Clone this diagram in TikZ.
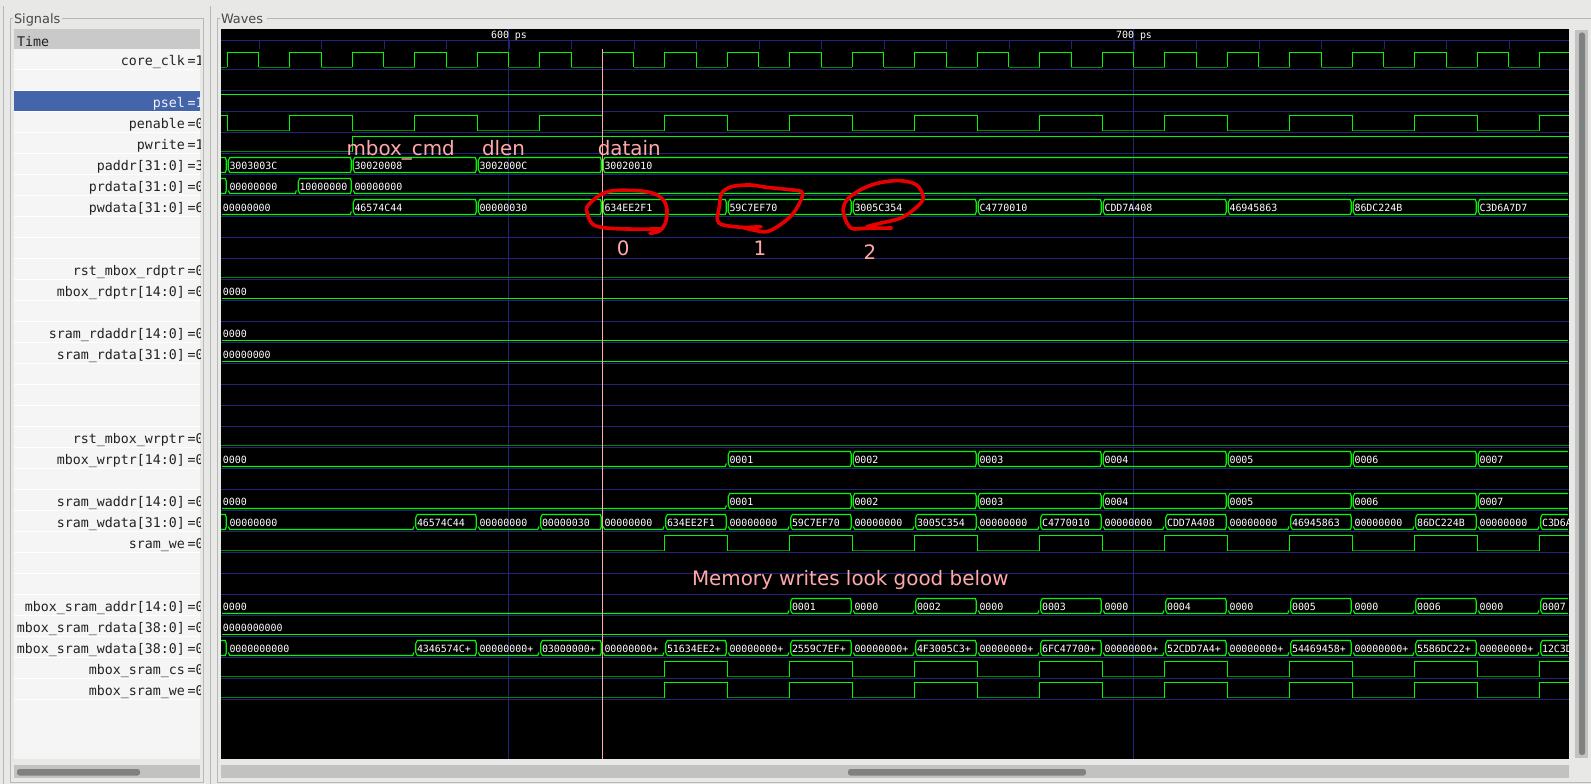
\documentclass[tikz,border=0pt]{standalone}
\usepackage{fontspec}
\setmainfont{DejaVu Sans}
\newfontfamily\monof{DejaVu Sans Mono}
\definecolor{chrome}{HTML}{E8E8E6}
\definecolor{framec}{HTML}{B8B9B6}
\definecolor{trough}{HTML}{C2C3C1}
\definecolor{thumbc}{HTML}{808281}
\definecolor{rowbg}{HTML}{F5F5F5}
\definecolor{timebg}{HTML}{C9C9C9}
\definecolor{selbg}{HTML}{4565AA}
\definecolor{gridb}{HTML}{23237A}
\definecolor{hig}{HTML}{00F800}
\definecolor{log}{HTML}{008A00}
\definecolor{anno}{HTML}{FFA8A8}
\definecolor{inkred}{HTML}{E80000}
\definecolor{sigtxt}{HTML}{222222}
\tikzset{
  framel/.style={draw=framec,line width=1pt},
  sigt/.style={inner sep=0pt,outer sep=0pt,font=\monof\fontsize{13.3}{13.3}\selectfont,text=sigtxt},
  valt/.style={inner sep=0pt,outer sep=0pt,anchor=base west,font=\monof\fontsize{9.95}{10}\selectfont,text=white},
  annot/.style={inner sep=0pt,outer sep=0pt,anchor=base west,font=\fontsize{19.9}{20}\selectfont,text=anno},
  paneltitle/.style={inner sep=0pt,outer sep=0pt,anchor=base west,font=\fontsize{12.9}{13}\selectfont,text=black!72},
  gridl/.style={draw=gridb,line width=1pt},
  vec/.style={draw=hig,line width=1.2pt,line join=miter},
  hiw/.style={draw=hig,line width=1.2pt},
  low/.style={draw=log,line width=1.2pt},
  ink/.style={draw=inkred,line width=3.6pt,line cap=round,line join=round},
}
% row, from, to (in clock-edge units), text: box with a value
\newcommand{\hexbox}[4]{%
  \pgfmathsetmacro\ya{52.5+21*#1}\pgfmathsetmacro\yb{67.5+21*#1}%
  \pgfmathsetmacro\xa{227.3+62.5*#2}\pgfmathsetmacro\xb{227.3+62.5*#3}%
  \draw[vec] (\xa+2.5,\ya) -- (\xb-2,\ya) -- (\xb-1,\ya+3) -- (\xb-1,\yb-3) -- (\xb-2,\yb) -- (\xa+2.5,\yb) -- (\xa+1,\yb-3) -- (\xa+1,\ya+3) -- cycle;
  \node[valt] (v#1-#2) at (\xa+2.2,64+21*#1) {#4};}
% row, from, to, text: a zero value, bottom line only
\newcommand{\zerobox}[4]{%
  \pgfmathsetmacro\yb{67.5+21*#1}%
  \pgfmathsetmacro\xa{227.3+62.5*#2}\pgfmathsetmacro\xb{227.3+62.5*#3}%
  \draw[vec] (\xa+1,\yb-3) -- (\xa+2.5,\yb) -- (\xb-2,\yb) -- (\xb-1,\yb-3);
  \node[valt] (v#1-#2) at (\xa+2.2,64+21*#1) {#4};}
% row, from, text: box open to the right end
\newcommand{\openbox}[3]{%
  \pgfmathsetmacro\ya{52.5+21*#1}\pgfmathsetmacro\yb{67.5+21*#1}%
  \pgfmathsetmacro\xa{227.3+62.5*#2}%
  \draw[vec] (1568,\ya) -- (\xa+2.5,\ya) -- (\xa+1,\ya+3) -- (\xa+1,\yb-3) -- (\xa+2.5,\yb) -- (1568,\yb);
  \node[valt] (v#1-#2) at (\xa+2.2,64+21*#1) {#3};}
% row, from, text: zero value open to the right end
\newcommand{\openzero}[3]{%
  \pgfmathsetmacro\yb{67.5+21*#1}%
  \pgfmathsetmacro\xa{227.3+62.5*#2}%
  \draw[vec] (\xa+1,\yb-3) -- (\xa+2.5,\yb) -- (1568,\yb);
  \node[valt] (v#1-#2) at (\xa+2.2,64+21*#1) {#3};}
% row, text: value constant over the whole pane
\newcommand{\flatzero}[2]{%
  \pgfmathsetmacro\yb{67.5+21*#1}%
  \draw[vec] (222,\yb) -- (1568,\yb);
  \node[valt] (v#1-s) at (222.8,64+21*#1) {#2};}
% row: short box before the first edge
\newcommand{\startstub}[1]{%
  \pgfmathsetmacro\ya{52.5+21*#1}\pgfmathsetmacro\yb{67.5+21*#1}%
  \draw[vec] (221,\ya) -- (225.3,\ya) -- (226.3,\ya+3) -- (226.3,\yb-3) -- (225.3,\yb) -- (221,\yb);}
% row, first rise, high length, period, count
\newcommand{\pulses}[5]{%
  \pgfmathsetmacro\ya{52.5+21*#1}\pgfmathsetmacro\yb{67.5+21*#1}%
  \draw[low] (100,\yb) -- (#2,\yb);
  \foreach \i in {1,...,#5}{%
    \pgfmathsetmacro\ra{#2+#4*(\i-1)}\pgfmathsetmacro\fa{\ra+#3}\pgfmathsetmacro\na{\ra+#4}%
    \draw[low] (\fa,\yb) -- (\na,\yb);
    \draw[hiw,line join=miter] (\ra,\yb) -- (\ra,\ya) -- (\fa,\ya) -- (\fa,\yb);
  }}
\begin{document}
\begin{tikzpicture}[x=1pt,y=-1pt]
\useasboundingbox (0,0) rectangle (1591,784);
\fill[chrome] (0,0) rectangle (1591,784);
% paned separators
\draw[framec,line width=1pt] (3.5,6) -- (3.5,784);
\draw[framec,line width=1pt] (210.5,6) -- (210.5,784);
% frames
\draw[framel] (10.5,18.5) rectangle (203.5,782.5);
\draw[framel] (1600,18.5) -- (217.5,18.5) -- (217.5,782.5) -- (1600,782.5);
\fill[chrome] (13,10) rectangle (62,26);
\fill[chrome] (220,10) rectangle (267,26);
\node[paneltitle] (sigtitle) at (14,23.7) {Signals};
\node[paneltitle] (wavtitle) at (221,23.7) {Waves};
% signal list
\fill[rowbg] (14,29) rectangle (200,759);
\fill[timebg] (14,29) rectangle (200,49);
\foreach \k in {0,...,30}{\fill[white] (14,{69+21*\k}) rectangle (200,{70+21*\k});}
\fill[selbg] (14,91) rectangle (200,111);
\begin{scope}
\clip (14,29) rectangle (200,759);
\node[sigt,anchor=base west] (timelab) at (17,46.8) {Time};
\foreach \k/\n/\v in {0/core\_clk/1,3/penable/0,4/pwrite/1,5/paddr[31:0]/3,6/prdata[31:0]/0,7/pwdata[31:0]/6,10/rst\_mbox\_rdptr/0,11/mbox\_rdptr[14:0]/0,13/sram\_rdaddr[14:0]/0,14/sram\_rdata[31:0]/0,18/rst\_mbox\_wrptr/0,19/mbox\_wrptr[14:0]/0,21/sram\_waddr[14:0]/0,22/sram\_wdata[31:0]/0,23/sram\_we/0,26/mbox\_sram\_addr[14:0]/0,27/mbox\_sram\_rdata[38:0]/0,28/mbox\_sram\_wdata[38:0]/0,29/mbox\_sram\_cs/0,30/mbox\_sram\_we/0}{
  \node[sigt,anchor=base east] (sig\k) at (185,{65.6+21*\k}) {\n};
  \node[sigt,anchor=base west] (val\k) at (187.6,{65.6+21*\k}) {=\v};
}
\node[sigt,anchor=base east,text=white!92!selbg] (sig2) at (185,107.6) {psel};
\node[sigt,anchor=base west,text=white!92!selbg] (val2) at (187.6,107.6) {=1};
\end{scope}
% wave pane
\fill[black] (221,29) rectangle (1569,759);
\begin{scope}
\clip (221,29) rectangle (1569,759);
\draw[gridl] (221,40.5) -- (1569,40.5);
\foreach \k in {0,...,30}{\draw[gridl] (221,{69.5+21*\k}) -- (1569,{69.5+21*\k});}
\foreach \n in {0,...,20}{\draw[gridl] ({259+62.5*\n},40.5) -- ({259+62.5*\n},49);}
\draw[gridl] (508.5,29) -- (508.5,759);
\draw[gridl] (1133.5,29) -- (1133.5,759);
\node[valt,anchor=base] (t600) at (509,38.5) {600 ps};
\node[valt,anchor=base] (t700) at (1134,38.5) {700 ps};
% single-bit signals
\pulses{0}{227.3}{31.4}{62.5}{22}
\pulses{2}{100}{3000}{4000}{1}
\pulses{3}{164.8}{62.5}{125}{12}
\pulses{4}{352.3}{3000}{4000}{1}
\draw[low] (221,{67.5+210}) -- (1569,{67.5+210});
\draw[low] (221,{67.5+378}) -- (1569,{67.5+378});
\pulses{23}{664.8}{62.5}{125}{8}
\pulses{29}{664.8}{62.5}{125}{8}
\pulses{30}{664.8}{62.5}{125}{8}
% paddr
\startstub{5}
\hexbox{5}{0}{2}{3003003C}
\hexbox{5}{2}{4}{30020008}
\hexbox{5}{4}{6}{3002000C}
\openbox{5}{6}{30020010}
% prdata
\startstub{6}
\zerobox{6}{0}{1.12}{00000000}
\hexbox{6}{1.12}{2}{10000000}
\openzero{6}{2}{00000000}
% pwdata
\draw[vec] (222,{67.5+147}) -- (350.3,{67.5+147}) -- (351.3,{64.5+147});
\node[valt] (v7-s) at (222.8,{64+147}) {00000000};
\hexbox{7}{2}{4}{46574C44}
\hexbox{7}{4}{6}{00000030}
\hexbox{7}{6}{8}{634EE2F1}
\hexbox{7}{8}{10}{59C7EF70}
\hexbox{7}{10}{12}{3005C354}
\hexbox{7}{12}{14}{C4770010}
\hexbox{7}{14}{16}{CDD7A408}
\hexbox{7}{16}{18}{46945863}
\hexbox{7}{18}{20}{86DC224B}
\openbox{7}{20}{C3D6A7D7}
% read side
\flatzero{11}{0000}
\flatzero{13}{0000}
\flatzero{14}{00000000}
% write pointers
\foreach \k in {19,21}{
  \draw[vec] (222,{67.5+21*\k}) -- (725.3,{67.5+21*\k}) -- (726.3,{64.5+21*\k});
  \node[valt] (v\k-s) at (222.8,{64+21*\k}) {0000};
  \hexbox{\k}{8}{10}{0001}
  \hexbox{\k}{10}{12}{0002}
  \hexbox{\k}{12}{14}{0003}
  \hexbox{\k}{14}{16}{0004}
  \hexbox{\k}{16}{18}{0005}
  \hexbox{\k}{18}{20}{0006}
  \openbox{\k}{20}{0007}
}
% sram_wdata
\startstub{22}
\zerobox{22}{0}{3}{00000000}
\hexbox{22}{3}{4}{46574C44}
\zerobox{22}{4}{5}{00000000}
\hexbox{22}{5}{6}{00000030}
\zerobox{22}{6}{7}{00000000}
\hexbox{22}{7}{8}{634EE2F1}
\zerobox{22}{8}{9}{00000000}
\hexbox{22}{9}{10}{59C7EF70}
\zerobox{22}{10}{11}{00000000}
\hexbox{22}{11}{12}{3005C354}
\zerobox{22}{12}{13}{00000000}
\hexbox{22}{13}{14}{C4770010}
\zerobox{22}{14}{15}{00000000}
\hexbox{22}{15}{16}{CDD7A408}
\zerobox{22}{16}{17}{00000000}
\hexbox{22}{17}{18}{46945863}
\zerobox{22}{18}{19}{00000000}
\hexbox{22}{19}{20}{86DC224B}
\zerobox{22}{20}{21}{00000000}
\openbox{22}{21}{C3D6A}
% mbox_sram_addr
\draw[vec] (222,{67.5+546}) -- (787.8,{67.5+546}) -- (788.8,{64.5+546});
\node[valt] (v26-s) at (222.8,{64+546}) {0000};
\hexbox{26}{9}{10}{0001}
\zerobox{26}{10}{11}{0000}
\hexbox{26}{11}{12}{0002}
\zerobox{26}{12}{13}{0000}
\hexbox{26}{13}{14}{0003}
\zerobox{26}{14}{15}{0000}
\hexbox{26}{15}{16}{0004}
\zerobox{26}{16}{17}{0000}
\hexbox{26}{17}{18}{0005}
\zerobox{26}{18}{19}{0000}
\hexbox{26}{19}{20}{0006}
\zerobox{26}{20}{21}{0000}
\openbox{26}{21}{0007}
\flatzero{27}{0000000000}
% mbox_sram_wdata
\startstub{28}
\zerobox{28}{0}{3}{0000000000}
\hexbox{28}{3}{4}{4346574C+}
\zerobox{28}{4}{5}{00000000+}
\hexbox{28}{5}{6}{03000000+}
\zerobox{28}{6}{7}{00000000+}
\hexbox{28}{7}{8}{51634EE2+}
\zerobox{28}{8}{9}{00000000+}
\hexbox{28}{9}{10}{2559C7EF+}
\zerobox{28}{10}{11}{00000000+}
\hexbox{28}{11}{12}{4F3005C3+}
\zerobox{28}{12}{13}{00000000+}
\hexbox{28}{13}{14}{6FC47700+}
\zerobox{28}{14}{15}{00000000+}
\hexbox{28}{15}{16}{52CDD7A4+}
\zerobox{28}{16}{17}{00000000+}
\hexbox{28}{17}{18}{54469458+}
\zerobox{28}{18}{19}{00000000+}
\hexbox{28}{19}{20}{5586DC22+}
\zerobox{28}{20}{21}{00000000+}
\openbox{28}{21}{12C3D}
% cursor
\draw[anno,line width=1pt] (602.5,49) -- (602.5,759);
\end{scope}
% annotations
\node[annot] (a1) at (346.5,155.5) {mbox\_cmd};
\node[annot] (a2) at (482,155.5) {dlen};
\node[annot] (a3) at (597.8,155.5) {datain};
\node[annot,anchor=center] (n0) at (623.3,248) {0};
\node[annot,anchor=center] (n1) at (760,248) {1};
\node[annot,anchor=center] (n2) at (870,252.5) {2};
\node[annot] (a4) at (692,585) {Memory writes look good below};
\begin{scope}[shift={(560,130)},x=.3333pt,y=-.3333pt]
\draw[ink] plot[smooth,tension=.55] coordinates {(270,310) (298,303) (316,280) (321,240) (310,210) (280,190) (230,182) (160,182) (120,195) (85,225) (80,242) (95,280) (130,293) (200,297) (300,297)};
\draw[ink] plot[smooth,tension=.55] coordinates {(603,290) (550,292) (490,285) (472,270) (478,230) (485,190) (515,170) (570,165) (620,172) (680,178) (725,185) (725,205) (700,250) (660,285) (620,305) (580,300) (550,293)};
\draw[ink] plot[smooth,tension=.55] coordinates {(995,294) (920,295) (875,295) (855,265) (850,235) (865,205) (910,175) (960,158) (1020,152) (1070,165) (1090,205) (1060,240) (1020,265) (960,280) (920,290)};
\end{scope}
% scrollbars
\fill[trough] (14,765) rectangle (200,778);
\fill[thumbc,rounded corners=2.5pt] (17,769) rectangle (140,775.5);
\fill[trough] (221,765) rectangle (1569,778);
\fill[thumbc,rounded corners=2.5pt] (848,769) rectangle (1086,775.5);
\fill[trough] (1575,30) rectangle (1588,757.5);
\fill[thumbc,rounded corners=2.5pt] (1579,32.5) rectangle (1585,755);
\end{tikzpicture}
\end{document}
